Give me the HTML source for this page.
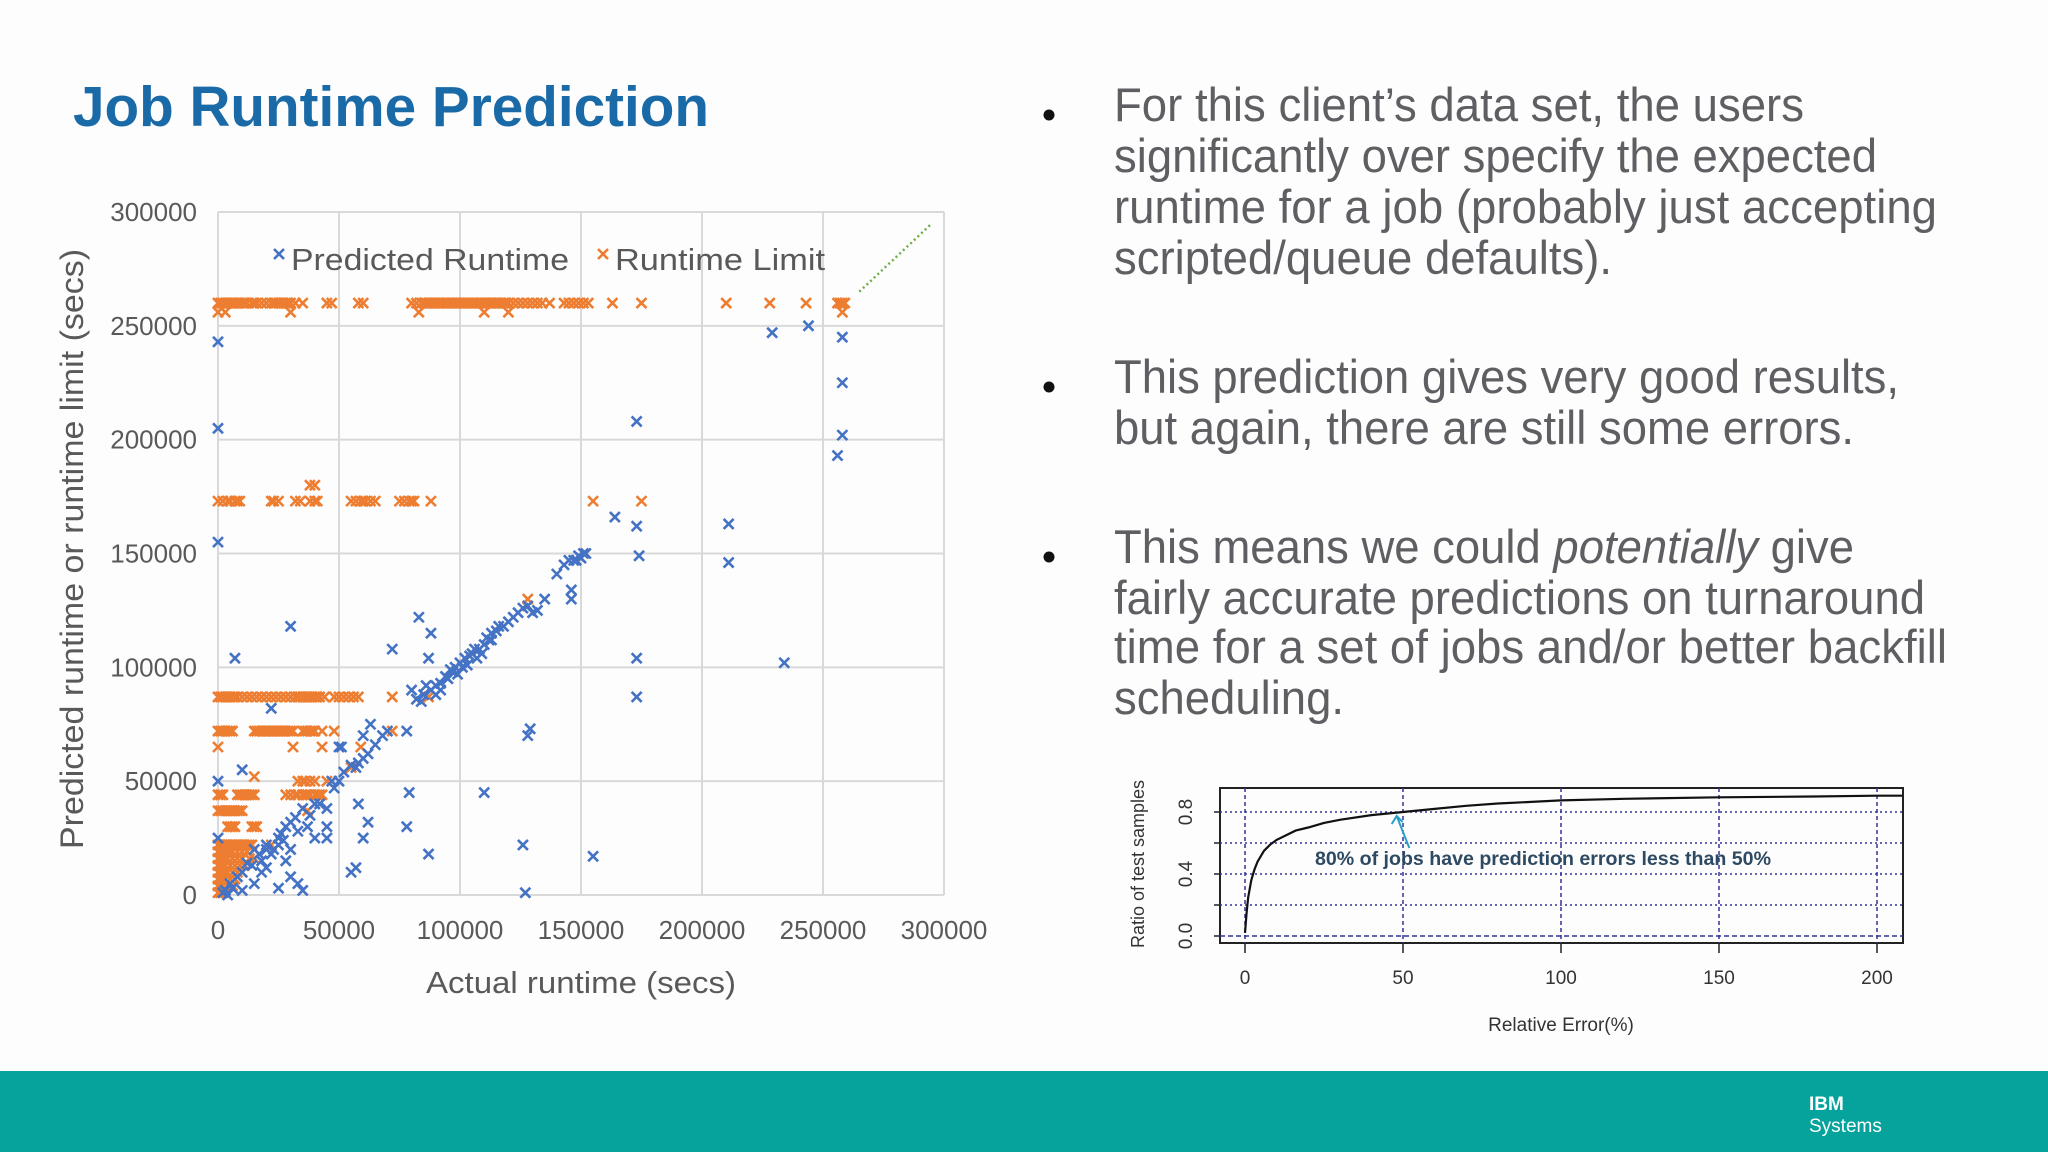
<!DOCTYPE html>
<html><head><meta charset="utf-8"><style>
html,body{margin:0;padding:0;background:#fff;}
svg{display:block;font-family:"Liberation Sans",sans-serif;}
</style></head><body>
<svg id="page" width="2048" height="1152" viewBox="0 0 2048 1152">
<rect x="0" y="0" width="2048" height="1152" fill="#fdfdfd"/>
<text x="73" y="126" font-size="57" font-weight="bold" fill="#1b6aa8" textLength="636" lengthAdjust="spacingAndGlyphs">Job Runtime Prediction</text>

<g id="bullets" fill="#5f5f63" font-size="47">
<circle cx="1049" cy="115" r="5.5" fill="#111"/>
<circle cx="1049" cy="387" r="5.5" fill="#111"/>
<circle cx="1049" cy="557" r="5.5" fill="#111"/>
<text x="1114" y="121" textLength="690" lengthAdjust="spacingAndGlyphs">For this client’s data set, the users</text>
<text x="1114" y="172" textLength="763" lengthAdjust="spacingAndGlyphs">significantly over specify the expected</text>
<text x="1114" y="223" textLength="823" lengthAdjust="spacingAndGlyphs">runtime for a job (probably just accepting</text>
<text x="1114" y="274" textLength="498" lengthAdjust="spacingAndGlyphs">scripted/queue defaults).</text>
<text x="1114" y="393" textLength="785" lengthAdjust="spacingAndGlyphs">This prediction gives very good results,</text>
<text x="1114" y="444" textLength="740" lengthAdjust="spacingAndGlyphs">but again, there are still some errors.</text>
<text x="1114" y="563" textLength="740" lengthAdjust="spacingAndGlyphs">This means we could <tspan font-style="italic">potentially</tspan> give</text>
<text x="1114" y="614" textLength="811" lengthAdjust="spacingAndGlyphs">fairly accurate predictions on turnaround</text>
<text x="1114" y="663" textLength="833" lengthAdjust="spacingAndGlyphs">time for a set of jobs and/or better backfill</text>
<text x="1114" y="714" textLength="230" lengthAdjust="spacingAndGlyphs">scheduling.</text>
</g>

<g id="scatter"></g>
<g id="cdf"></g>

<rect x="0" y="1071" width="2048" height="81" fill="#05a39b"/>
<text x="1809" y="1110" font-size="19" font-weight="bold" fill="#fff">IBM</text>
<text x="1809" y="1132" font-size="19" fill="#fff">Systems</text>
</svg>
<script>
// ---------- scatter data (thousands of seconds) ----------
const xTicks = [0,50000,100000,150000,200000,250000,300000];
const yTicks = [0,50000,100000,150000,200000,250000,300000];
const predX = [0,0,0,0,0,7,10,22,30,83,72,88,87,80,78,63,60,55,58,62,60,55,57,79,78,87,110,126,127,128,129,155,164,173,173,174,173,173,211,211,229,244,234,258,258,258,256,146,146,150,152,145,148,135,132,130,35,25,30,33,40,45,45,45,42,47,50,51,15,20,18,12,10,8,5,3,2,25,28,30,32,35,38,40,37,33,30,28,20,22,18,6,4,15,10,85,88,90,92,94,95,97,98,100,101,102,104,105,106,108,110,111,112,113,115,116,118,120,122,124,126,128,90,92,96,99,103,107,109,113,84,86,82,65,68,70,62,60,58,57,52,50,48,25,20,17,14,26,27,23,149,151,147,143,140];
const predY = [243,205,155,50,25,104,55,82,118,122,108,115,104,90,72,75,70,57,40,32,25,10,12,45,30,18,45,22,1,70,73,17,166,208,162,149,104,87,163,146,247,250,102,245,225,202,193,134,130,148,150,147,147,130,125,124,2,3,8,5,25,30,25,38,40,50,65,65,20,22,15,14,10,8,5,2,1,25,30,32,34,38,35,40,30,28,20,15,12,18,10,3,0,5,2,88,90,92,93,96,95,98,100,102,100,104,105,106,108,108,110,113,112,115,116,118,118,120,122,124,126,127,88,90,99,97,101,104,106,112,85,92,86,66,70,72,62,60,58,56,54,50,47,22,20,18,13,27,24,20,149,150,147,145,141];
const limitLevels = [260,256,173,180,130,87,72,65,56,52,50,44,37,30,22,19,16,13,10,7,4,1];
const limitXs = [
 [0,1,2,3,4,5,6,7,8,9,10,11,12,14,15,16,18,20,22,23,24,25,26,27,28,29,30,32,35,45,47,58,60,80,82,84,85,86,87,88,89,90,91,92,93,94,95,96,97,98,99,100,101,102,103,104,105,106,107,108,109,110,111,112,113,114,115,116,117,118,119,120,122,124,126,128,130,132,134,137,143,145,147,149,151,153,163,175,210,228,243,256,257,258,259],
 [0,3,30,83,110,120,258],
 [0,2,4,5,7,8,9,22,23,25,32,34,38,40,41,55,57,59,60,61,63,65,75,77,79,80,81,88,155,175],
 [38,40],
 [128],
 [0,1,2,3,4,5,6,7,8,10,12,14,16,18,20,22,24,26,28,30,32,33,34,35,36,37,38,39,40,41,42,44,48,50,52,54,56,58,72,87],
 [0,1,2,3,4,5,6,15,16,17,18,19,20,21,22,23,24,25,26,27,28,29,30,31,35,36,37,38,39,40,43,48,72],
 [0,31,43,59],
 [55],
 [15],
 [33,35,36,38,40,45],
 [0,1,2,8,9,10,11,12,13,14,15,28,30,32,33,35,36,37,38,40,41,42,43],
 [0,1,2,3,4,5,6,7,8,9,10,37],
 [4,5,6,7,14,15,16],
 [0,1,2,3,4,5,6,7,8,9,10,11,12,13,14,22],
 [0,1,2,3,4,5,6,8,10,12],
 [0,1,2,3,4,6,8,10,13,15],
 [0,1,2,3,5,7,9,11],
 [0,1,2,3,4,6,8,10],
 [0,1,2,3,5,7],
 [0,1,2,4,6],
 [0,1,2,3]
];
const diagStart = 265000, diagEnd = 295000;

// ---------- cdf data ----------
const cdfX = [0,0.5,1,2,3,4,6,8,10,13,16,20,25,30,40,50,60,70,80,100,120,150,180,200,208];
const cdfY = [0.02,0.15,0.25,0.36,0.43,0.48,0.55,0.59,0.62,0.65,0.68,0.7,0.73,0.75,0.78,0.8,0.82,0.84,0.855,0.875,0.885,0.895,0.9,0.905,0.905];
const cdfXTicks = [0,50,100,150,200];
const cdfYTicks = ["0.0","0.4","0.8"];
const cdfGridY = [0,0.2,0.4,0.6,0.8];

const NS = "http://www.w3.org/2000/svg";
function mk(parent, tag, attrs, text){
  const el = document.createElementNS(NS, tag);
  for (const k in attrs) el.setAttribute(k, attrs[k]);
  if (text !== undefined) el.textContent = text;
  parent.appendChild(el);
  return el;
}

// ---------- scatter ----------
(function(){
  const g = document.getElementById('scatter');
  const L=218,R=944,T=212,B=895;
  const sx = v => L + (v/300000)*(R-L);
  const sy = v => B - (v/300000)*(B-T);
  xTicks.forEach(t=>{
    const ln = mk(g,'line',{x1:sx(t),x2:sx(t),y1:T,y2:B,stroke:'#d9d9d9','stroke-width':2});
    
    
    const tx = mk(g,'text',{x:sx(t),y:939,'font-size':26,fill:'#595959','text-anchor':'middle'},String(t));
    
    
  });
  yTicks.forEach(t=>{
    const ln = mk(g,'line',{x1:L,x2:R,y1:sy(t),y2:sy(t),stroke:'#d9d9d9','stroke-width':2});
    
    
    const tx = mk(g,'text',{x:197,y:sy(t)+9,'font-size':26,fill:'#595959','text-anchor':'end'},String(t));
    
    
  });
  const ax = mk(g,'text',{x:581,y:993,'font-size':31,fill:'#595959','text-anchor':'middle',textLength:310,lengthAdjust:'spacingAndGlyphs'},'Actual runtime (secs)');
  
  
  const ay = mk(g,'text',{x:0,y:0,'font-size':32,fill:'#595959','text-anchor':'middle',textLength:600,lengthAdjust:'spacingAndGlyphs',transform:'translate(83,549) rotate(-90)'},'Predicted runtime or runtime limit (secs)');
  
  

  function cross(x,y,color,name){
    const s=5;
    const p = mk(g,'path',{d:`M${x-s},${y-s}L${x+s},${y+s}M${x-s},${y+s}L${x+s},${y-s}`,stroke:color,'stroke-width':2.6,fill:'none'});
    
    
  }
  limitLevels.forEach((lv,i)=>{
    limitXs[i].forEach(xv=>cross(sx(xv*1000),sy(lv*1000),'#ed7d31','limit-point'));
  });
  predX.forEach((xv,i)=>cross(sx(xv*1000),sy(predY[i]*1000),'#4472c4','predicted-point'));

  const dl = mk(g,'line',{x1:sx(diagStart),y1:sy(diagStart),x2:sx(diagEnd),y2:sy(diagEnd),stroke:'#70ad47','stroke-width':2.5,'stroke-dasharray':'2 3'});
  
  

  // legend
  cross(279,254,'#4472c4','legend-predicted-marker');
  const l1 = mk(g,'text',{x:291,y:270,'font-size':31,fill:'#595959',textLength:278,lengthAdjust:'spacingAndGlyphs'},'Predicted Runtime');
  
  
  cross(603,254,'#ed7d31','legend-limit-marker');
  const l2 = mk(g,'text',{x:615,y:270,'font-size':31,fill:'#595959',textLength:210,lengthAdjust:'spacingAndGlyphs'},'Runtime Limit');
  
  
})();

// ---------- cdf ----------
(function(){
  const g = document.getElementById('cdf');
  const L=1220,R=1903,T=788,B=943;
  const sx = v => 1245 + v*(1877-1245)/200;
  const sy = v => 936 - v*(936-812)/0.8;
  const box = mk(g,'rect',{x:L,y:T,width:R-L,height:B-T,fill:'none',stroke:'#222','stroke-width':2});
  
  
  cdfGridY.forEach(v=>{
    const ln = mk(g,'line',{x1:L,x2:R,y1:sy(v),y2:sy(v),stroke:'#333399','stroke-width':1.5,'stroke-dasharray':v===0?'5 3':'2 3'});
    
    
    const tk = mk(g,'line',{x1:L-6,x2:L,y1:sy(v),y2:sy(v),stroke:'#222','stroke-width':1.5});
    
    
  });
  cdfXTicks.forEach(v=>{
    const ln = mk(g,'line',{x1:sx(v),x2:sx(v),y1:T,y2:B,stroke:'#333399','stroke-width':1.5,'stroke-dasharray':'4 3'});
    
    
    const tk = mk(g,'line',{x1:sx(v),x2:sx(v),y1:B,y2:B+10,stroke:'#222','stroke-width':1.5});
    
    
    const tx = mk(g,'text',{x:sx(v),y:984,'font-size':19,fill:'#333','text-anchor':'middle'},String(v));
    
    
  });
  cdfYTicks.forEach(s=>{
    const v=parseFloat(s);
    const tx = mk(g,'text',{x:0,y:0,'font-size':19,fill:'#333','text-anchor':'middle',transform:`translate(1192,${sy(v)}) rotate(-90)`},s);
    
    
  });
  const d = cdfX.map((x,i)=>(i?'L':'M')+sx(x).toFixed(1)+','+sy(cdfY[i]).toFixed(1)).join('');
  const c = mk(g,'path',{d:d,fill:'none',stroke:'#111','stroke-width':2.2});
  
  
  const yt = mk(g,'text',{x:0,y:0,'font-size':18,fill:'#333','text-anchor':'middle',transform:'translate(1144,864) rotate(-90)'},'Ratio of test samples');
  
  
  const xt = mk(g,'text',{x:1561,y:1031,'font-size':19,fill:'#333','text-anchor':'middle'},'Relative Error(%)');
  
  
  const ar = mk(g,'path',{d:`M${sx(52)},848 L${sx(48)},${sy(0.8)+4} M${sx(48)-5},${sy(0.8)+12} L${sx(48)},${sy(0.8)+4} L${sx(48)+6},${sy(0.8)+10}`,stroke:'#2aa0c8','stroke-width':2,fill:'none'});
  
  
  const an = mk(g,'text',{x:1315,y:865,'font-size':19,'font-weight':'bold',fill:'#2e4a62',textLength:456,lengthAdjust:'spacingAndGlyphs'},'80%  of jobs have prediction errors less than 50%');
  
  
})();
</script>
</body></html>
